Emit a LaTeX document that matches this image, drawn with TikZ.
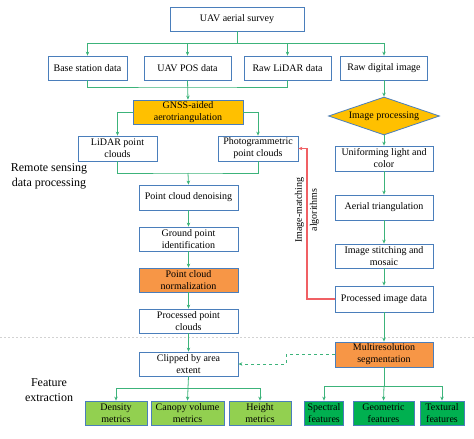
\documentclass[tikz,border=0pt]{standalone}
\usepackage{fontspec}
\setmainfont{Liberation Serif}
\usetikzlibrary{shapes.geometric,arrows.meta}
\definecolor{bordblue}{HTML}{4A7EBB}
\definecolor{conngreen}{HTML}{3CB37A}
\definecolor{goldfill}{HTML}{FFC000}
\definecolor{orangefill}{HTML}{F79646}
\definecolor{lightgreen}{HTML}{92D050}
\definecolor{darkgreen}{HTML}{00B050}
\definecolor{matchred}{RGB}{240,96,100}
\tikzset{
  box/.style={draw=bordblue, line width=0.8pt, fill=white, align=center,
    inner xsep=1pt, inner ysep=1pt, font=\fontsize{10}{12}\selectfont,
    minimum height=24pt},
  conn/.style={draw=conngreen, line width=0.8pt},
  arr/.style={conn, -{Stealth[length=4pt,width=3.5pt]}},
  redarr/.style={color=matchred, line width=1.1pt, -{Stealth[length=4pt,width=3.5pt]}},
  biglabel/.style={align=center, font=\fontsize{12}{15}\selectfont},
}
\begin{document}
\begin{tikzpicture}[x=1pt,y=-1pt]
\useasboundingbox (0,0) rectangle (474,439);
% separator
\draw[gray!35, line width=0.6pt, dash pattern=on 2pt off 2pt] (0,337) -- (474,337);
% nodes
\node[box, minimum width=134pt] (survey) at (237,19) {UAV aerial survey};
\node[box, minimum width=79pt] (base) at (87.5,68) {Base station data};
\node[box, minimum width=87pt] (pos) at (187.5,68) {UAV POS data};
\node[box, minimum width=87pt] (rawlidar) at (287.5,68) {Raw LiDAR data};
\node[box, minimum width=87pt] (rawimg) at (384,68) {Raw digital image};
\node[box, fill=goldfill, minimum width=110pt] (gnss) at (188,112) {GNSS-aided\\aerotriangulation};
\node[draw=bordblue, line width=0.8pt, fill=goldfill, diamond, aspect=3, inner sep=0pt,
  minimum width=111pt, minimum height=38pt, font=\fontsize{10}{12}\selectfont] (diam) at (384,116) {Image processing};
\node[box, minimum width=79pt, minimum height=25pt] (lidarpc) at (117.5,148.5) {LiDAR point\\clouds};
\node[box, minimum width=80pt, minimum height=25pt] (photo) at (258,148.5) {Photogrammetric\\point clouds};
\node[biglabel] (rslabel) at (49,176) {Remote sensing\\data processing};
\node[box, minimum width=99pt, minimum height=25pt] (denoise) at (188.5,197.5) {Point cloud denoising};
\node[box, minimum width=99pt] (ground) at (188.5,239) {Ground point\\identification};
\node[box, fill=orangefill, minimum width=99pt] (norm) at (188.5,280) {Point cloud\\normalization};
\node[box, minimum width=99pt] (procpc) at (188.5,321) {Processed point\\clouds};
\node[box, minimum width=99pt] (clip) at (188.5,364) {Clipped by area\\extent};
\node[biglabel] (felabel) at (49,390) {Feature\\extraction};
\node[box, fill=lightgreen, minimum width=62pt] (density) at (116,413) {Density\\metrics};
\node[box, fill=lightgreen, minimum width=73pt] (canopy) at (187.5,413) {Canopy volume\\metrics};
\node[box, fill=lightgreen, minimum width=62pt] (height) at (260,413) {Height\\metrics};
\node[box, minimum width=98pt, minimum height=25pt] (unif) at (384,158.5) {Uniforming light and\\color};
\node[box, minimum width=98pt, minimum height=25pt] (aerial) at (384,207.5) {Aerial triangulation};
\node[box, minimum width=98pt] (stitch) at (384,256) {Image stitching and\\mosaic};
\node[box, minimum width=98pt, minimum height=26pt] (procimg) at (384,299) {Processed image data};
\node[box, fill=orangefill, minimum width=98pt, minimum height=25pt] (multi) at (384,354.5) {Multiresolution\\segmentation};
\node[box, fill=darkgreen, minimum width=39pt] (spectral) at (324,413) {Spectral\\features};
\node[box, fill=darkgreen, minimum width=61pt] (geom) at (383.5,413) {Geometric\\features};
\node[box, fill=darkgreen, minimum width=44pt] (textural) at (442,413) {Textural\\features};
% connector coordinates
\coordinate (b1) at (237,43);
\coordinate (j1) at (188,87);
\coordinate (j2) at (188,173);
\coordinate (j3) at (188,388);
\coordinate (j4) at (384,386);
\coordinate (d1) at (286,354.5);
\coordinate (d2) at (286,364);
\coordinate (r2) at (307,148.5);
% top tree
\draw[conn] (survey.south) -- (b1);
\draw[arr] (b1) -| (base.north);
\draw[arr] (b1) -| (pos.north);
\draw[arr] (b1) -| (rawlidar.north);
\draw[arr] (b1) -| (rawimg.north);
\draw[conn] (base.south) |- (j1) -| (rawlidar.south);
\draw[arr] (pos.south) -- (gnss.north);
\draw[arr] (gnss.west) -| (lidarpc.north);
\draw[arr] (gnss.east) -| (photo.north);
\draw[arr] (rawimg.south) -- (diam.north);
% left chain
\draw[conn] (lidarpc.south) |- (j2) -| (photo.south);
\draw[arr] (j2) -- (denoise.north);
\draw[arr] (denoise) -- (ground);
\draw[arr] (ground) -- (norm);
\draw[arr] (norm) -- (procpc);
\draw[arr] (procpc) -- (clip);
\draw[conn] (clip.south) -- (j3);
\draw[arr] (j3) -| (density.north);
\draw[arr] (j3) -- (canopy.north);
\draw[arr] (j3) -| (height.north);
% right chain
\draw[arr] (diam.south) -- (unif.north);
\draw[arr] (unif) -- (aerial);
\draw[arr] (aerial) -- (stitch);
\draw[arr] (stitch) -- (procimg);
\draw[arr] (procimg) -- (multi);
\draw[conn] (multi.south) -- (j4);
\draw[arr] (j4) -| (spectral.north);
\draw[arr] (j4) -- (geom.north);
\draw[arr] (j4) -| (textural.north);
% dashed link
\draw[arr, dashed] (multi.west) -- (d1) -- (d2) -- (clip.east);
% red feedback
\draw[redarr] (procimg.west) -| (r2) -- (photo.east);
\node[rotate=90, align=center, font=\fontsize{10}{15}\selectfont] (imlabel) at (307,210) {Image-matching\\algorithms};
\end{tikzpicture}
\end{document}
